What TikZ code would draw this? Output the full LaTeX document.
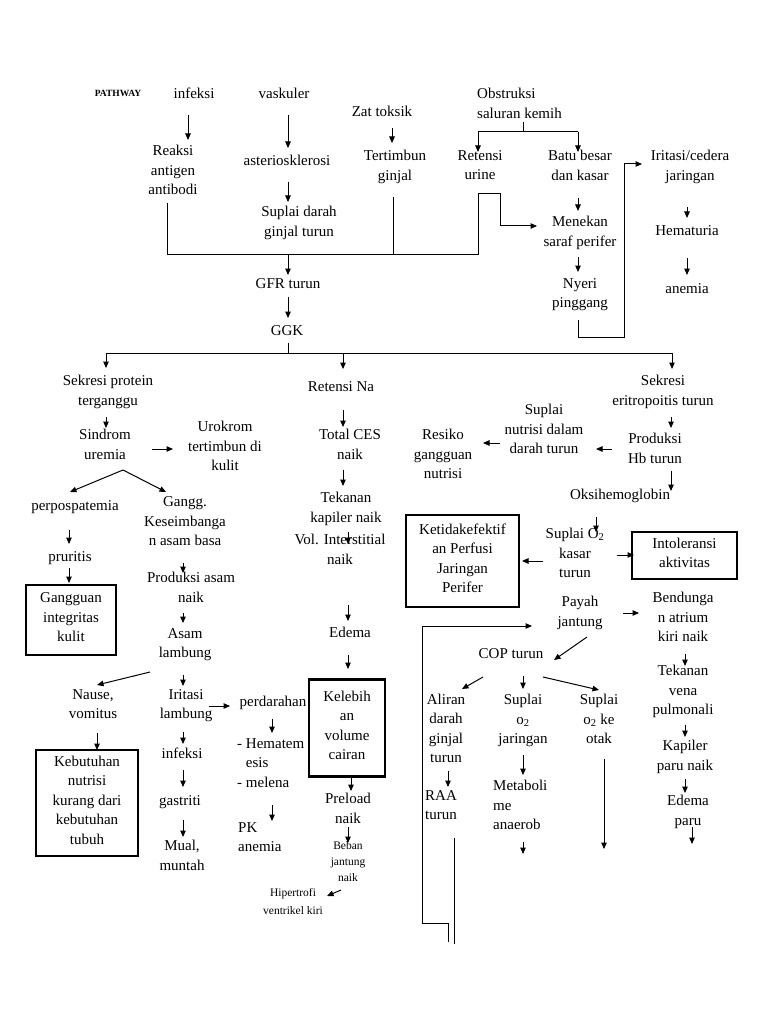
\documentclass[tikz,border=0pt]{standalone}
\usepackage{fontspec}
\setmainfont{Liberation Serif}
\usetikzlibrary{arrows.meta}
\begin{document}
\begin{tikzpicture}[x=1pt,y=-1pt,
  t/.style={font=\fontsize{15}{19.5}\selectfont, align=center, inner sep=0pt,
    execute at begin node=\strut, execute at end node=\strut},
  tl/.style={t, align=left, anchor=west},
  ts/.style={font=\fontsize{11.5}{18}\selectfont, align=center, inner sep=0pt,
    execute at begin node=\strut, execute at end node=\strut},
  bx/.style={draw, line width=2.5pt},
  ln/.style={line width=1pt},
  arr/.style={line width=1pt, -{Triangle[length=6.5pt,width=5.5pt]}}]
\useasboundingbox (0,0) rectangle (768,1024);
\fill[white] (0,0) rectangle (768,1024);

% ---------- top ----------
\node[font=\fontsize{9.5}{11}\selectfont\bfseries, inner sep=0pt] (pathway) at (118,93) {PATHWAY};
\node[t] (infeksi) at (194,95) {infeksi};
\node[t] (vaskuler) at (284,95) {vaskuler};
\node[t] (zat) at (382,113) {Zat toksik};
\node[tl] (obs) at (477,106) {Obstruksi\\saluran kemih};
\node[t] (reaksi) at (173,173) {Reaksi\\antigen\\antibodi};
\node[t] (aster) at (287,162) {asteriosklerosi};
\node[t] (suplaidarah) at (299,224) {Suplai darah\\ginjal turun};
\node[t] (tertimbun) at (395,168) {Tertimbun\\ginjal};
\node[t] (retensi) at (480,168) {Retensi\\urine};
\node[t] (batu) at (580,168) {Batu besar\\dan kasar};
\node[t] (iritasi) at (690,168) {Iritasi/cedera\\jaringan};
\node[t] (menekan) at (580,234) {Menekan\\saraf perifer};
\node[t] (nyeri) at (580,296) {Nyeri\\pinggang};
\node[t] (hematuria) at (687,232) {Hematuria};
\node[t] (anemiaA) at (687,290) {anemia};
\node[t] (gfr) at (288,285) {GFR turun};
\node[t] (ggk) at (287,332) {GGK};

\draw[arr] (188,115) -- (188,140);
\draw[arr] (288,115) -- (288,148);
\draw[arr] (288,182) -- (288,202);
\draw[arr] (392,128) -- (392,143);
\draw[ln] (523,122) -- (523,132);
\draw[ln] (478,132) -- (578,132);
\draw[arr] (478,132) -- (478,152);
\draw[arr] (578,132) -- (578,152);
\draw[ln] (167,203) -- (167,254) -- (478,254) -- (478,194) -- (500,194) -- (500,226);
\draw[arr] (500,226) -- (537,226);
\draw[ln] (393,197) -- (393,254);
\draw[arr] (288,254) -- (288,275);
\draw[arr] (578,198) -- (578,211);
\draw[arr] (578,257) -- (578,272);
\draw[ln] (578,320) -- (578,337) -- (624,337) -- (624,164);
\draw[arr] (624,164) -- (642,164);
\draw[arr] (687,207) -- (687,218);
\draw[arr] (687,258) -- (687,275);
\draw[arr] (288,297) -- (288,318);

% ---------- GGK branches ----------
\draw[ln] (288,343) -- (288,353);
\draw[ln] (106,353) -- (672,353);
\draw[arr] (106,353) -- (106,368);
\draw[arr] (343,353) -- (343,369);
\draw[arr] (672,353) -- (672,369);

% ---------- left column ----------
\node[t] (sekresiP) at (108,393) {Sekresi protein\\terganggu};
\node[t] (sindrom) at (105,447) {Sindrom\\uremia};
\node[t] (urokrom) at (225,449) {Urokrom\\tertimbun di\\kulit};
\node[t] (perpos) at (75,507) {perpospatemia};
\node[t] (gangg) at (185,524) {Gangg.\\Keseimbanga\\n asam basa};
\node[t] (pruritis) at (70,558) {pruritis};
\node[t, bx, minimum width=90, minimum height=70] (gangguan) at (71,620) {Gangguan\\integritas\\kulit};
\node[t] (produksiAsam) at (191,590) {Produksi asam\\naik};
\node[t] (asam) at (185,646) {Asam\\lambung};
\node[t] (nause) at (93,707) {Nause,\\vomitus};
\node[t] (iritasiL) at (186,707) {Iritasi\\lambung};
\node[t] (perdarahan) at (273,703) {perdarahan};
\node[tl] (hemat) at (237,766) {- Hematem\\\hphantom{- }esis\\- melena};
\node[tl] (pk) at (238,840) {PK\\anemia};
\node[t, bx, minimum width=102, minimum height=106] (kebutuhan) at (87,803) {Kebutuhan\\nutrisi\\kurang dari\\kebutuhan\\tubuh};
\node[t] (infeksiB) at (182,755) {infeksi};
\node[t] (gastriti) at (180,802) {gastriti};
\node[t] (mual) at (182,858) {Mual,\\muntah};
\node[ts] (hipertrofi) at (293,904) {Hipertrofi\\ventrikel kiri};

\draw[arr] (106,417) -- (106,428);
\draw[arr] (152,449) -- (173,449);
\draw[arr] (123,470) -- (70,492);
\draw[arr] (123,470) -- (166,492);
\draw[arr] (69,530) -- (69,544);
\draw[arr] (69,568) -- (69,583);
\draw[arr] (183,563) -- (183,573);
\draw[arr] (183,613) -- (183,623);
\draw[arr] (150,672) -- (97,685);
\draw[arr] (183,675) -- (183,686);
\draw[arr] (97,733) -- (97,750);
\draw[arr] (209,706) -- (230,706);
\draw[arr] (272,719) -- (272,733);
\draw[arr] (272,805) -- (272,821);
\draw[arr] (183,732) -- (183,744);
\draw[arr] (183,770) -- (183,787);
\draw[arr] (183,820) -- (183,837);

% ---------- middle column ----------
\node[t] (retensiNa) at (341,388) {Retensi Na};
\node[t] (totalCES) at (350,447) {Total CES\\naik};
\node[t] (tekanan) at (346,510) {Tekanan\\kapiler naik};
\node[t] (vol) at (340,552) {Vol. Interstitial\\naik};
\node[t] (edema) at (350,634) {Edema};
\node[t, bx, minimum width=76, minimum height=97] (kelebihan) at (347,728) {Kelebih\\an\\volume\\cairan};
\node[t] (preload) at (348,811) {Preload\\naik};
\node[font=\fontsize{11.5}{16}\selectfont, align=center, inner sep=0pt,
  execute at begin node=\strut, execute at end node=\strut] (beban) at (348,864) {Beban\\jantung\\naik};

\draw[arr] (343,410) -- (343,427);
\draw[arr] (343,470) -- (343,486);
\draw[arr] (348,532) -- (348,544);
\draw[arr] (348,605) -- (348,621);
\draw[arr] (348,655) -- (348,669);
\draw[arr] (351,777) -- (351,791);
\draw[arr] (348,827) -- (348,843);
\draw[arr] (341,890) -- (327,896);

% ---------- right column ----------
\node[t] (sekresiE) at (663,393) {Sekresi\\eritropoitis turun};
\node[t] (produksiHb) at (655,451) {Produksi\\Hb turun};
\node[t] (suplaiNut) at (544,432) {Suplai\\nutrisi dalam\\darah turun};
\node[t] (resiko) at (443,457) {Resiko\\gangguan\\nutrisi};
\node[t] (oksi) at (620,496) {Oksihemoglobin};
\node[t] (suplaiO2) at (575,556) {Suplai O\textsubscript{2}\\kasar\\turun};
\node[t, bx, minimum width=113, minimum height=92] (ketidak) at (462.5,561) {Ketidakefektif\\an Perfusi\\Jaringan\\Perifer};
\node[t, bx, minimum width=105, minimum height=47] (intol) at (684.5,555.5) {Intoleransi\\aktivitas};
\node[t] (payah) at (580,614) {Payah\\jantung};
\node[t] (bendungan) at (683,620) {Bendunga\\n atrium\\kiri naik};
\node[t] (tekananV) at (683,693) {Tekanan\\vena\\pulmonali};
\node[t] (kapiler) at (685,758) {Kapiler\\paru naik};
\node[t] (edemaParu) at (688,813) {Edema\\paru};
\node[t] (cop) at (511,655) {COP turun};
\node[t] (aliran) at (446,731) {Aliran\\darah\\ginjal\\turun};
\node[tl] (raa) at (425,808) {RAA\\turun};
\node[t] (suplaiJar) at (523,722) {Suplai\\o\textsubscript{2}\\jaringan};
\node[tl] (metab) at (493,808) {Metaboli\\me\\anaerob};
\node[t] (suplaiOtak) at (599,722) {Suplai\\o\textsubscript{2} ke\\otak};

\draw[arr] (671,417) -- (671,428);
\draw[arr] (612,449) -- (596,449);
\draw[arr] (500,443) -- (483,443);
\draw[arr] (671,471) -- (671,491);
\draw[arr] (596,517) -- (596,532);
\draw[arr] (543,561) -- (522,561);
\draw[arr] (617,555) -- (634,555);
\draw[arr] (623,613) -- (639,613);
\draw[arr] (587,637) -- (554,660);
\draw[arr] (685,654) -- (685,666);
\draw[arr] (685,725) -- (685,737);
\draw[arr] (685,779) -- (685,793);
\draw[arr] (692,827) -- (692,844);
\draw[arr] (483,677) -- (462,689);
\draw[arr] (523,676) -- (523,689);
\draw[arr] (543,677) -- (599,690);
\draw[arr] (448,771) -- (448,787);
\draw[arr] (523,755) -- (523,775);
\draw[arr] (523,842) -- (523,854);
\draw[arr] (604,759) -- (604,849);

% long feedback bracket
\draw[ln] (448,942) -- (448,923) -- (422,923) -- (422,626);
\draw[arr] (422,626) -- (532,626);
\draw[ln] (454,838) -- (454,944);
\end{tikzpicture}
\end{document}
